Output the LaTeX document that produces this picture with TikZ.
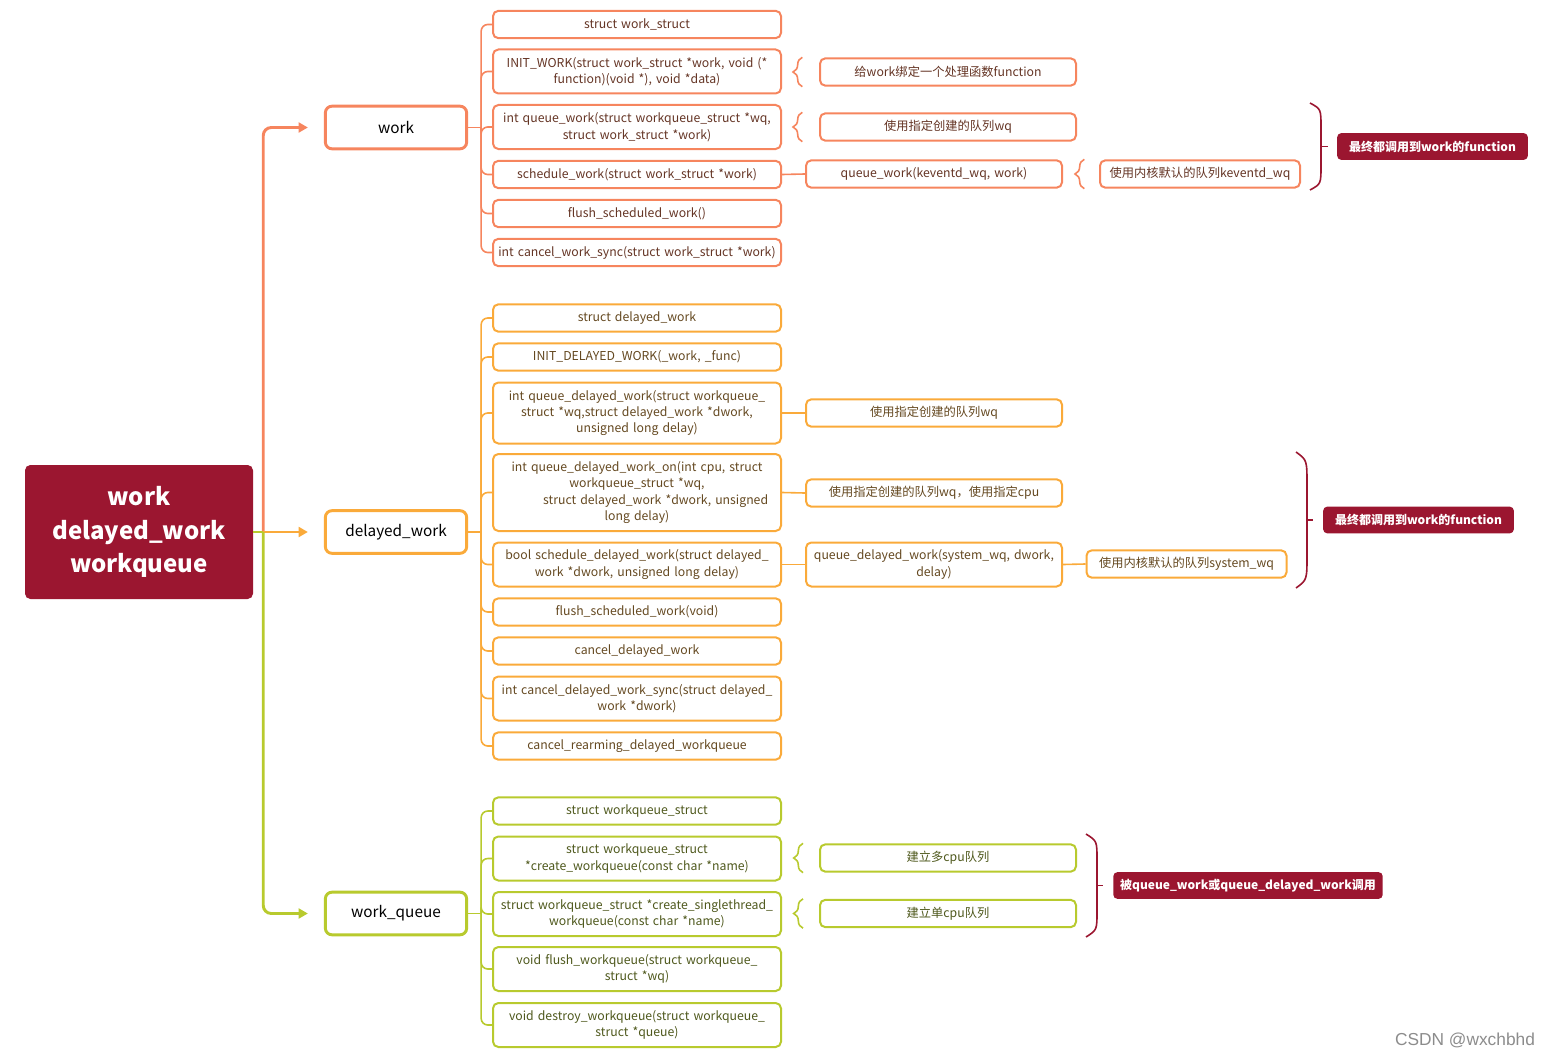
\documentclass[tikz,border=0pt]{standalone}
\usepackage{fontspec}
\setmainfont{Noto Sans CJK SC}
\newfontfamily\markfont{Liberation Sans}
\usetikzlibrary{arrows.meta,decorations.pathreplacing}
\definecolor{rootred}{RGB}{155,22,48}
\definecolor{coral}{RGB}{246,133,94}
\definecolor{amber}{RGB}{250,170,58}
\definecolor{lime}{RGB}{184,202,46}
\definecolor{coraltext}{RGB}{100,52,36}
\definecolor{ambertext}{RGB}{100,72,32}
\definecolor{limetext}{RGB}{78,88,28}
\newcommand{\leafwidth}{212pt}
\newcommand{\notewidth}{188pt}
\newcommand{\shortwidth}{146pt}
\tikzset{>={Triangle[length=7pt,width=7.5pt]}}
\tikzset{
  root/.style={fill=rootred, text=white, rounded corners=4pt, align=center, minimum width=171pt, minimum height=100.5pt, font=\bfseries\fontsize{18}{25}\selectfont},
  branch/.style={draw, fill=white, line width=2.2pt, rounded corners=5pt, minimum width=106pt, minimum height=32pt, font=\fontsize{11.5}{14}\selectfont},
  leaf/.style={draw, line width=1.5pt, rounded corners=4pt, align=center, text width=\leafwidth, inner xsep=2pt, inner ysep=2pt, minimum height=20.5pt, font=\fontsize{9.2}{12.3}\selectfont},
  two/.style={minimum height=33pt},
  three/.style={minimum height=45.75pt},
  four/.style={minimum height=57.75pt},
  note/.style={leaf, text width=\notewidth},
  shortnote/.style={leaf, text width=\shortwidth},
  workbox/.style={draw=coral, text=coraltext},
  delaybox/.style={draw=amber, text=ambertext},
  queuebox/.style={draw=lime, text=limetext},
  summary/.style={fill=rootred, text=white, rounded corners=3pt, minimum width=143pt, minimum height=20pt, inner xsep=2pt, font=\bfseries\fontsize{9}{12}\selectfont},
  trunk/.style={line width=2.2pt, rounded corners=6pt},
  twig/.style={line width=1.2pt, rounded corners=5pt},
  curly/.style={line width=1.2pt, decorate, decoration={brace, amplitude=7pt}},
  bracket/.style={rootred, line width=1.2pt},
}
\begin{document}
\begin{tikzpicture}[x=0.75pt, y=-0.75pt]
	\useasboundingbox (0,0) rectangle (1553,1056);

	% root and the three branches
	\node[root] (root) at (139,532) {work\\delayed\_work\\workqueue};
	\node[branch, draw=coral] (work) at (396,127.5) {work};
	\node[branch, draw=amber] (delayed) at (396,532) {delayed\_work};
	\node[branch, draw=lime] (wq) at (396,913.5) {work\_queue};

	\path (root.east) ++(10,0) coordinate (fork);
	\draw[trunk, coral, ->] (fork) |- ([xshift=-12pt]work.west);
	\draw[trunk, amber, ->] (fork) -- ([xshift=-12pt]delayed.west);
	\draw[trunk, lime] (root.east) -- (fork);
	\draw[trunk, lime, ->] (fork) |- ([xshift=-12pt]wq.west);

	% work
	\node[leaf, workbox] (w1) at (637,24.5) {struct work\_struct};
	\node[leaf, two, workbox] (w2) at (637,71.5) {INIT\_WORK(struct work\_struct *work, void (*\\ function)(void *), void *data)};
	\node[leaf, two, workbox] (w3) at (637,127) {int queue\_work(struct workqueue\_struct *wq,\\ struct work\_struct *work)};
	\node[leaf, workbox] (w4) at (637,174.5) {schedule\_work(struct work\_struct *work)};
	\node[leaf, workbox] (w5) at (637,213.5) {flush\_scheduled\_work()};
	\node[leaf, workbox] (w6) at (637,252.5) {int cancel\_work\_sync(struct work\_struct *work)};

	\path (work.east) ++(13,0) coordinate (workfork);
	\draw[twig, coral] (work.east) -- (workfork);
	\draw[twig, coral] (workfork) |- (w1.west);
	\draw[twig, coral] (workfork) |- (w2.west);
	\draw[twig, coral] (workfork) |- (w3.west);
	\draw[twig, coral] (workfork) |- (w4.west);
	\draw[twig, coral] (workfork) |- (w5.west);
	\draw[twig, coral] (workfork) |- (w6.west);

	\node[note, workbox] (n1) at (948,72) {给work绑定一个处理函数function};
	\node[note, workbox] (n2) at (948,127) {使用指定创建的队列wq};
	\node[note, workbox] (n3) at (934,174) {queue\_work(keventd\_wq, work)};
	\node[shortnote, workbox] (n4) at (1200,174) {使用内核默认的队列keventd\_wq};
	\draw[curly, coral] ([xshift=-12.5pt]n1.south west) -- ([xshift=-12.5pt]n1.north west);
	\draw[curly, coral] ([xshift=-12.5pt]n2.south west) -- ([xshift=-12.5pt]n2.north west);
	\draw[twig, coral] (w4.east) -- (n3.west);
	\draw[curly, coral] ([xshift=-11pt]n4.south west) -- ([xshift=-11pt]n4.north west);

	\node[summary] (s1) at (1432.5,146.5) {最终都调用到work的function};
	\draw[bracket] (1310,103) .. controls (1321,109) .. (1321,128) -- (1321,165) .. controls (1321,184) .. (1310,190);
	\draw[bracket] (1321,146.5) -- (1328,146.5);

	% delayed_work
	\node[leaf, delaybox] (d1) at (637,318) {struct delayed\_work};
	\node[leaf, delaybox] (d2) at (637,357) {INIT\_DELAYED\_WORK(\_work, \_func)};
	\node[leaf, three, delaybox] (d3) at (637,413) {int queue\_delayed\_work(struct workqueue\_\\ struct *wq,struct delayed\_work *dwork,\\ unsigned long delay)};
	\node[leaf, four, delaybox] (d4) at (637,492.5) {int queue\_delayed\_work\_on(int cpu, struct\\ workqueue\_struct *wq,\\ \hspace*{28pt}struct delayed\_work *dwork, unsigned\\ long delay)};
	\node[leaf, two, delaybox] (d5) at (637,564.5) {bool schedule\_delayed\_work(struct delayed\_\\ work *dwork, unsigned long delay)};
	\node[leaf, delaybox] (d6) at (637,612) {flush\_scheduled\_work(void)};
	\node[leaf, delaybox] (d7) at (637,651) {cancel\_delayed\_work};
	\node[leaf, two, delaybox] (d8) at (637,698.5) {int cancel\_delayed\_work\_sync(struct delayed\_\\ work *dwork)};
	\node[leaf, delaybox] (d9) at (637,746) {cancel\_rearming\_delayed\_workqueue};

	\path (delayed.east) ++(13,0) coordinate (delayfork);
	\draw[twig, amber] (delayed.east) -- (delayfork);
	\draw[twig, amber] (delayfork) |- (d1.west);
	\draw[twig, amber] (delayfork) |- (d2.west);
	\draw[twig, amber] (delayfork) |- (d3.west);
	\draw[twig, amber] (delayfork) |- (d4.west);
	\draw[twig, amber] (delayfork) |- (d5.west);
	\draw[twig, amber] (delayfork) |- (d6.west);
	\draw[twig, amber] (delayfork) |- (d7.west);
	\draw[twig, amber] (delayfork) |- (d8.west);
	\draw[twig, amber] (delayfork) |- (d9.west);

	\node[note, delaybox] (m1) at (934,413) {使用指定创建的队列wq};
	\node[note, delaybox] (m2) at (934,493) {使用指定创建的队列wq，使用指定cpu};
	\node[note, two, delaybox] (m3) at (934,564.5) {queue\_delayed\_work(system\_wq, dwork,\\ delay)};
	\node[shortnote, delaybox] (m4) at (1186.5,564) {使用内核默认的队列system\_wq};
	\draw[twig, amber] (d3.east) -- (m1.west);
	\draw[twig, amber] (d4.east) -- (m2.west);
	\draw[twig, amber] (d5.east) -- (m3.west);
	\draw[twig, amber] (m3.east) -- (m4.west);

	\node[summary] (s2) at (1418.5,520) {最终都调用到work的function};
	\draw[bracket] (1296,452) .. controls (1307,460) .. (1307,485) -- (1307,555) .. controls (1307,580) .. (1296,588);
	\draw[bracket] (1307,520) -- (1313,520);

	% work_queue
	\node[leaf, queuebox] (q1) at (637,811) {struct workqueue\_struct};
	\node[leaf, two, queuebox] (q2) at (637,858.5) {struct workqueue\_struct\\ {*}create\_workqueue(const char *name)};
	\node[leaf, two, queuebox] (q3) at (637,914) {struct workqueue\_struct *create\_singlethread\_\\ workqueue(const char *name)};
	\node[leaf, two, queuebox] (q4) at (637,969) {void flush\_workqueue(struct workqueue\_\\ struct *wq)};
	\node[leaf, two, queuebox] (q5) at (637,1025) {void destroy\_workqueue(struct workqueue\_\\ struct *queue)};

	\path (wq.east) ++(13,0) coordinate (queuefork);
	\draw[twig, lime] (wq.east) -- (queuefork);
	\draw[twig, lime] (queuefork) |- (q1.west);
	\draw[twig, lime] (queuefork) |- (q2.west);
	\draw[twig, lime] (queuefork) |- (q3.west);
	\draw[twig, lime] (queuefork) |- (q4.west);
	\draw[twig, lime] (queuefork) |- (q5.west);

	\node[note, queuebox] (g1) at (948,858) {建立多cpu队列};
	\node[note, queuebox] (g2) at (948,913.5) {建立单cpu队列};
	\draw[curly, lime] ([xshift=-12pt]g1.south west) -- ([xshift=-12pt]g1.north west);
	\draw[curly, lime] ([xshift=-12pt]g2.south west) -- ([xshift=-12pt]g2.north west);

	\node[summary, minimum width=202pt] (s3) at (1248,885.5) {被queue\_work或queue\_delayed\_work调用};
	\draw[bracket] (1086,834) .. controls (1097,841) .. (1097,860) -- (1097,911) .. controls (1097,930) .. (1086,937);
	\draw[bracket] (1097,885.5) -- (1103,885.5);

	\node[font=\markfont\fontsize{13}{15}\selectfont, text=black!45] (mark) at (1465,1040) {CSDN @wxchbhd};

\end{tikzpicture}
\end{document}
